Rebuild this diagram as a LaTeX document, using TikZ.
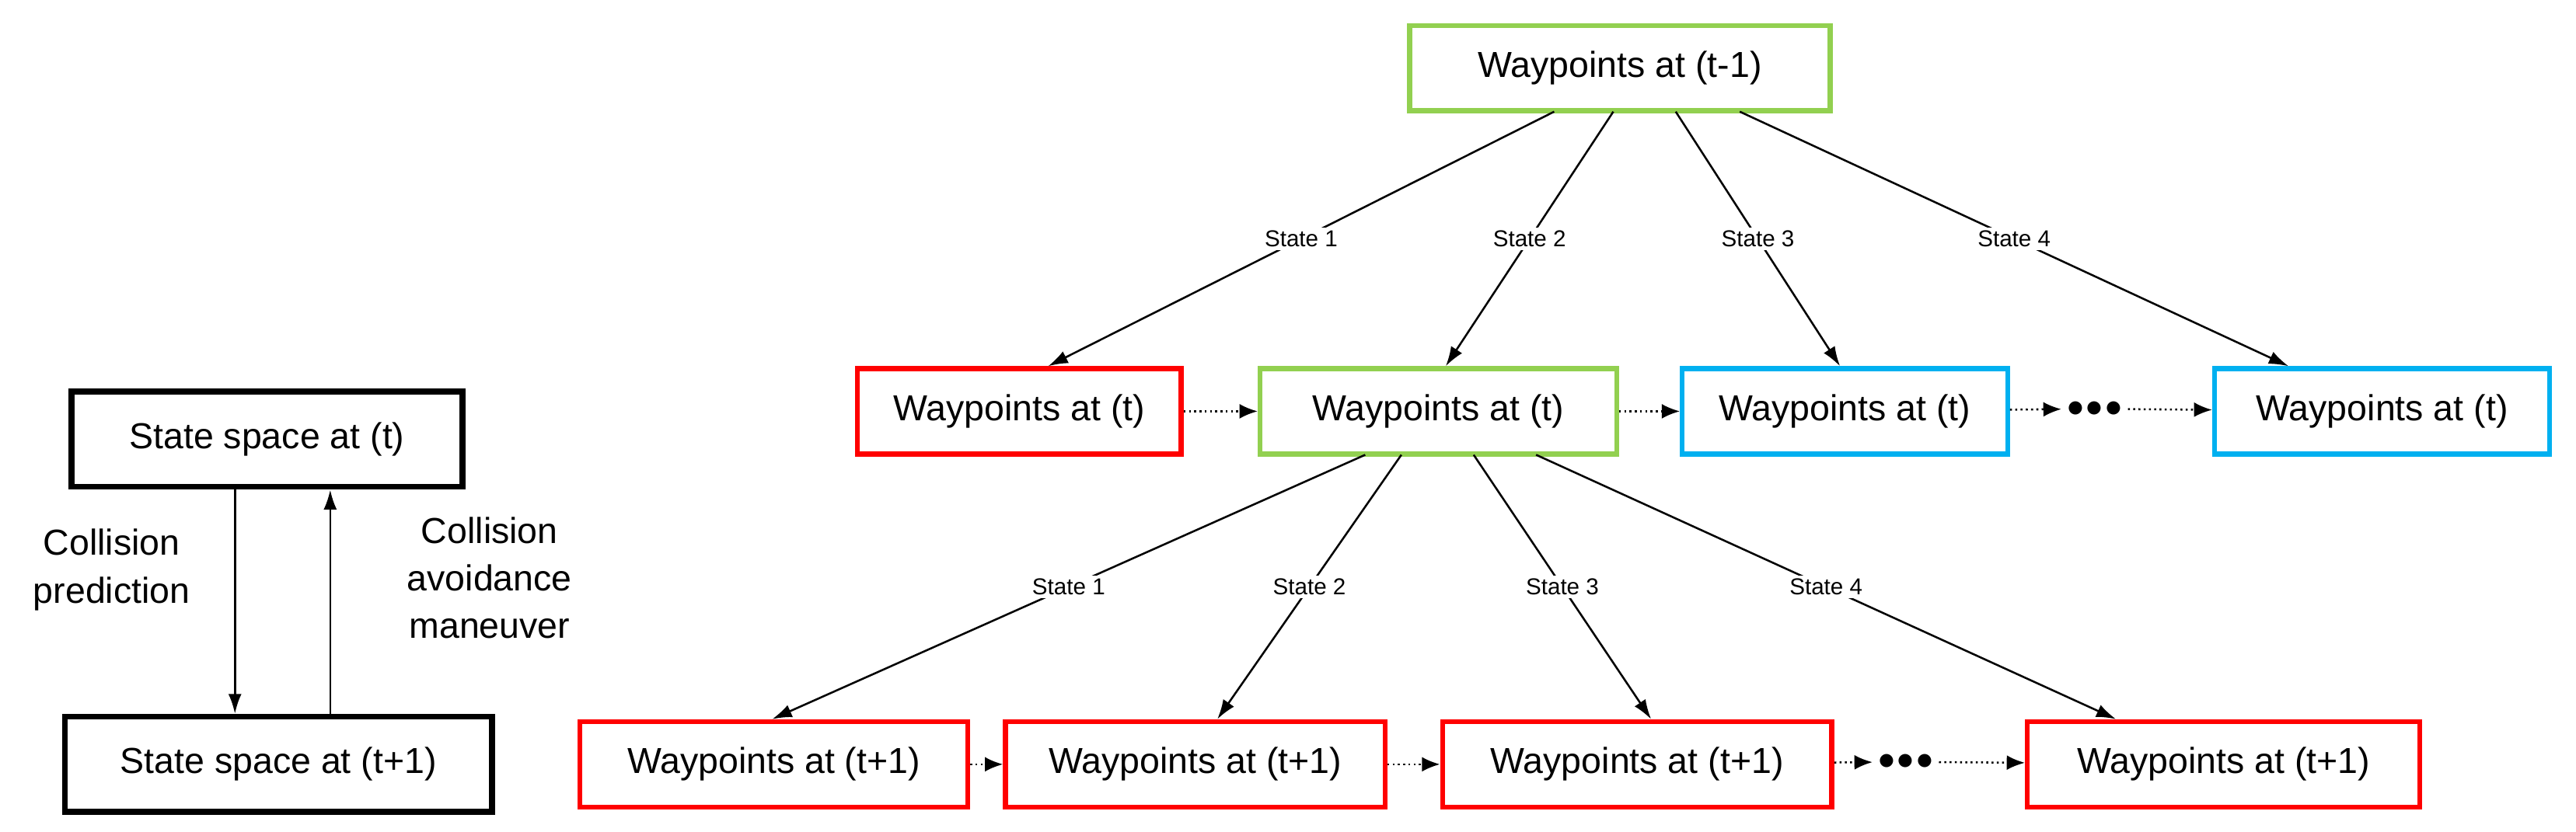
\documentclass[tikz,border=0pt]{standalone}
\usepackage{fontspec}
\setmainfont{Liberation Sans}
\usetikzlibrary{arrows.meta,positioning}
\definecolor{gr}{HTML}{92D050}
\definecolor{rd}{HTML}{FF0000}
\definecolor{bl}{HTML}{00B0F0}
\begin{document}
\begin{tikzpicture}[x=1pt,y=-1pt,
  box/.style={draw=#1,line width=3pt,minimum height=52pt,inner sep=0pt,font=\fontsize{22}{26}\selectfont},
  sbox/.style={draw=black,line width=3.6pt,minimum height=58pt,inner sep=0pt,font=\fontsize{22}{26}\selectfont},
  arr/.style={line width=1.2pt,-{Latex[length=12pt,width=8pt]}},
  dar/.style={line width=1.2pt,dotted,-{Latex[length=11pt,width=9pt]}},
  lab/.style={fill=white,inner sep=2pt,font=\fontsize{14}{16}\selectfont},
  big/.style={font=\fontsize{22}{29}\selectfont,align=center}]
\useasboundingbox (0,0) rectangle (1568,506.3);
% left part
\node[sbox,minimum width=238pt] (s1) at (162.5,267.5) {State space at (t)};
\node[sbox,minimum width=260pt] (s2) at (169.5,465.5) {State space at (t+1)};
\draw[arr] (s1.south -| 143,0) -- (s2.north -| 143,0);
\draw[arr] (s2.north -| 201,0) -- (s1.south -| 201,0);
\node[big] (cp) at (68,347) {Collision\\prediction};
\node[big] (ca) at (298,352) {Collision\\avoidance\\maneuver};
% top
\node[box=gr,minimum width=256pt] (top) at (986,41.5) {Waypoints at (t-1)};
% row 2
\node[box=rd,minimum width=197pt] (r1) at (620.5,250.5) {Waypoints at (t)};
\node[box=gr,minimum width=217pt] (r2) at (875.5,250.5) {Waypoints at (t)};
\node[box=bl,minimum width=198pt] (r3) at (1123,250.5) {Waypoints at (t)};
\node[box=bl,minimum width=204pt] (r4) at (1450,250.5) {Waypoints at (t)};
\node[font=\fontsize{22}{24}\selectfont] (d1) at (1275,249) {$\bullet\!\bullet\!\bullet$};
% row 3
\node[box=rd,minimum width=236pt] (q1) at (471,465.5) {Waypoints at (t+1)};
\node[box=rd,minimum width=231pt] (q2) at (727.5,465.5) {Waypoints at (t+1)};
\node[box=rd,minimum width=237pt] (q3) at (996.5,465.5) {Waypoints at (t+1)};
\node[box=rd,minimum width=239pt] (q4) at (1353.5,465.5) {Waypoints at (t+1)};
\node[font=\fontsize{22}{24}\selectfont] (d2) at (1160,464) {$\bullet\!\bullet\!\bullet$};
% top edges
\coordinate (t1) at (946,68);\coordinate (t2) at (982,68);
\coordinate (t3) at (1020,68);\coordinate (t4) at (1059,68);
\draw[arr] (t1) -- node[lab]{State 1} (r1.north -| 638,0);
\draw[arr] (t2) -- node[lab]{State 2} (r2.north -| 880,0);
\draw[arr] (t3) -- node[lab]{State 3} (r3.north -| 1120,0);
\draw[arr] (t4) -- node[lab]{State 4} (r4.north -| 1393,0);
% lower edges
\coordinate (u1) at (831,277);\coordinate (u2) at (853,277);
\coordinate (u3) at (897,277);\coordinate (u4) at (935,277);
\draw[arr] (u1) -- node[lab]{State 1} (q1.north -| 470,0);
\draw[arr] (u2) -- node[lab]{State 2} (q2.north -| 741,0);
\draw[arr] (u3) -- node[lab]{State 3} (q3.north -| 1005,0);
\draw[arr] (u4) -- node[lab]{State 4} (q4.north -| 1288,0);
% dotted
\draw[dar] (r1) -- (r2);
\draw[dar] (r2) -- (r3);
\draw[dar] (r3) -- (d1);
\draw[dar] (d1) -- (r4);
\draw[dar] (q1) -- (q2);
\draw[dar] (q2) -- (q3);
\draw[dar] (q3) -- (d2);
\draw[dar] (d2) -- (q4);
\end{tikzpicture}
\end{document}
